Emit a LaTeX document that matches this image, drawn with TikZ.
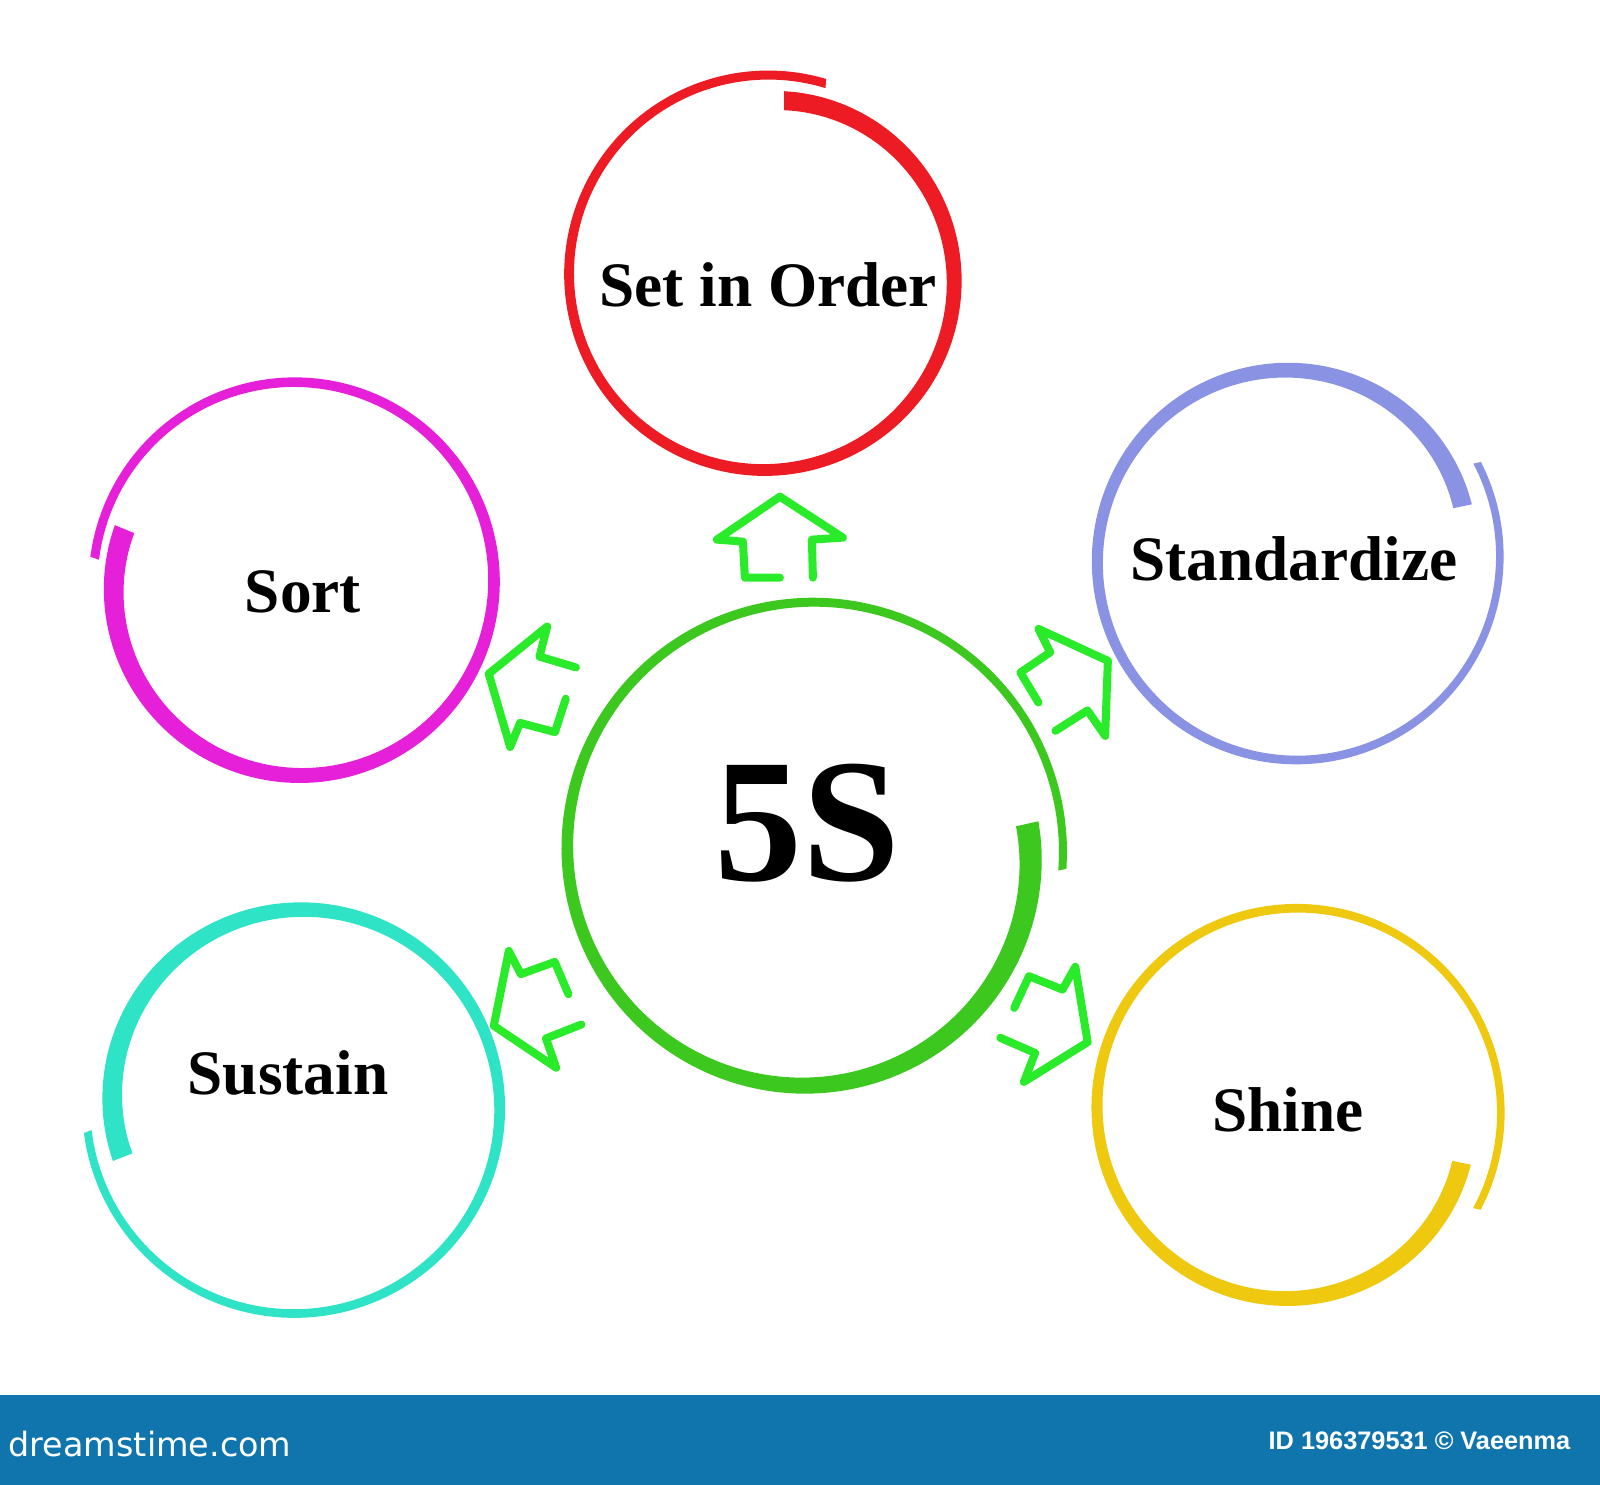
\documentclass[tikz,border=0pt]{standalone}
\usepackage{fontspec}
\setmainfont{Liberation Serif}
\newfontfamily\logofont{DejaVu Sans}
\newfontfamily\creditfont{Liberation Sans}
\usetikzlibrary{calc}
\definecolor{setred}{HTML}{ED1C24}
\definecolor{sortpink}{HTML}{E620D8}
\definecolor{stdblue}{HTML}{8A92E4}
\definecolor{shineyellow}{HTML}{EFC810}
\definecolor{sustaincyan}{HTML}{2EE3C6}
\definecolor{fivegreen}{HTML}{3CC81E}
\definecolor{arrowgreen}{HTML}{2AEB2A}
\definecolor{bannerblue}{HTML}{0F75AC}
\tikzset{
  arrowline/.style={draw=arrowgreen,line width=0.08cm,line cap=round,line join=round},
  blockarrow/.pic={\draw[arrowline] (33,0)--(32,38)--(63,40)--(0,81)--(-63,38)--(-37,36)--(-35,0)--(0,0);},
  ringtext/.style={font=\bfseries\fontsize{18}{20}\selectfont,anchor=base,inner sep=0pt},
}
% hand drawn ring: cx, cy, r start, r end, width start, width end, start angle, sweep, colour
\newcommand{\penring}[9]{%
  \fill[#9] plot[domain=0:1,samples=100,smooth]
    ({#1+(#4-(#4-#3)*(1-\x)^2+0.5*(#6+(#5-#6)*(1-\x)^2))*cos(#7+(#8)*\x)},
     {#2+(#4-(#4-#3)*(1-\x)^2+0.5*(#6+(#5-#6)*(1-\x)^2))*sin(#7+(#8)*\x)})
    -- plot[domain=1:0,samples=100,smooth]
    ({#1+(#4-(#4-#3)*(1-\x)^2-0.5*(#6+(#5-#6)*(1-\x)^2))*cos(#7+(#8)*\x)},
     {#2+(#4-(#4-#3)*(1-\x)^2-0.5*(#6+(#5-#6)*(1-\x)^2))*sin(#7+(#8)*\x)})
    -- cycle;}

\begin{document}
\begin{tikzpicture}[x=0.01cm,y=0.01cm]
  \useasboundingbox (0,0) rectangle (1600,-1485);
  \fill[white] (0,0) rectangle (1600,-1485);

  % ring centres
  \coordinate (fives) at (811,-852);
  \coordinate (setorder) at (768,-276);
  \coordinate (sort) at (296,-584);
  \coordinate (standardize) at (1294,-557);
  \coordinate (shine) at (1294,-1112);
  \coordinate (sustain) at (296,-1105);

  \penring{768}{-276}{176}{201}{19}{9}{85}{-372}{setred}
  \penring{296}{-584}{180}{203}{21}{9}{162}{371}{sortpink}
  \penring{1294}{-557}{176}{206}{19}{7.5}{16.5}{371}{stdblue}
  \penring{1294}{-1112}{175}{207}{19}{7.5}{-16.6}{-371.6}{shineyellow}
  \penring{296}{-1105}{181}{210}{21}{8}{197}{-370}{sustaincyan}
  \penring{811}{-852}{218}{252}{23}{8}{7.7}{-372}{fivegreen}

  \node[ringtext] (t-setorder) at (768,-306) {Set in Order};
  \node[ringtext] (t-sort) at (303,-612) {Sort};
  \node[ringtext] (t-standardize) at (1294,-580) {Standardize};
  \node[ringtext] (t-shine) at (1288,-1131) {Shine};
  \node[ringtext] (t-sustain) at (288,-1094) {Sustain};
  \node[ringtext,font=\bfseries\fontsize{50}{54}\selectfont] (t-fives) at (807,-880) {5S};

  % block arrows from the centre ring
  \foreach \t/\a/\d/\r/\f in {setorder/2.2/2.76cm/0/1, sort/-4.5/2.89cm/72/1,
      standardize/1.9/2.72cm/-59/1, shine/-9.2/2.56cm/-115/1, sustain/4.2/2.81cm/113/-1}
    \pic[rotate=\r,xscale=\f] at ($(fives)!\d!\a:(\t)$) {blockarrow};

  % banner
  \fill[bannerblue] (0,-1395) rectangle (1600,-1485);
  \node[anchor=base west,text=white,inner sep=0pt,font=\logofont\fontsize{9.5}{10}\selectfont]
    (logo) at (8,-1456) {dreamstime.com};
  \node[anchor=base east,text=white,inner sep=0pt,font=\creditfont\bfseries\fontsize{7.2}{9}\selectfont]
    (credit) at (1571,-1449) {ID 196379531 © Vaeenma};
\end{tikzpicture}
\end{document}
